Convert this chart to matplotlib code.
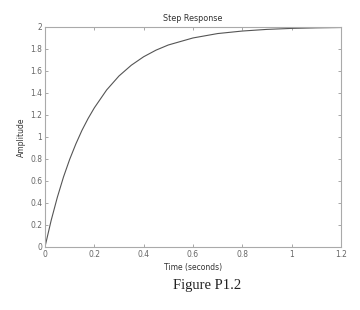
import matplotlib
matplotlib.use("Agg")
import matplotlib.pyplot as plt

time_s = [0, 0.025, 0.05, 0.075, 0.1, 0.125, 0.15, 0.175, 0.2, 0.25, 0.3, 0.35,
          0.4, 0.45, 0.5, 0.6, 0.7, 0.8, 0.9, 1.0, 1.1, 1.2]
amplitude = [0, 0.24, 0.45, 0.635, 0.795, 0.935, 1.06, 1.168, 1.264, 1.427, 1.554,
             1.652, 1.729, 1.789, 1.836, 1.900, 1.940, 1.963, 1.978, 1.987, 1.992, 1.995]
xticks = [0, 0.2, 0.4, 0.6, 0.8, 1, 1.2]
xticklabels = ["0", "0.2", "0.4", "0.6", "0.8", "1", "1.2"]
yticks = [0, 0.2, 0.4, 0.6, 0.8, 1, 1.2, 1.4, 1.6, 1.8, 2]
yticklabels = ["0", "0.2", "0.4", "0.6", "0.8", "1", "1.2", "1.4", "1.6", "1.8", "2"]

fig = plt.figure(figsize=(3.6, 3.1), dpi=100)
ax = fig.add_axes([0.125, 0.204, 0.822, 0.709])
ax.plot(time_s, amplitude, color="#555555", lw=0.8)
ax.set_xlim(0, 1.2)
ax.set_ylim(0, 2)
ax.set_xticks(xticks)
ax.set_xticklabels(xticklabels)
ax.set_yticks(yticks)
ax.set_yticklabels(yticklabels)
ax.tick_params(direction="in", length=2.5, width=0.6, colors="#999999",
               labelcolor="#666666", labelsize=5.5, top=True, right=True, pad=2)
for s in ax.spines.values():
    s.set_color("#aaaaaa")
    s.set_linewidth(0.8)
ax.set_title("Step Response", fontsize=5.8, color="#333333", pad=4)
ax.set_xlabel("Time (seconds)", fontsize=5.5, color="#333333", labelpad=3)
ax.set_ylabel("Amplitude", fontsize=5.5, color="#333333", labelpad=3)
fig.text(0.575, 0.08, "Figure P1.2", family="Liberation Serif", fontsize=10.5,
         ha="center", va="center", color="#222222")
fig.savefig("out.png", dpi=100)
